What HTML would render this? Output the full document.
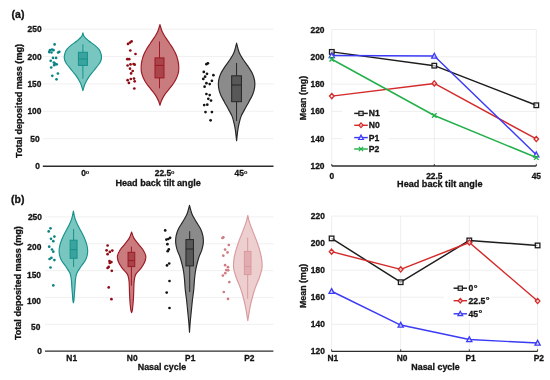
<!DOCTYPE html>
<html><head><meta charset="utf-8"><style>
html,body{margin:0;padding:0;background:#fff;}
svg{display:block;will-change:transform;}
text{font-family:"Liberation Sans",sans-serif;font-weight:bold;fill:#141414;stroke:#141414;stroke-width:0.3px;}
</style></head><body>
<svg width="550" height="380" viewBox="0 0 550 380">
<rect width="550" height="380" fill="#fff"/>
<text x="11.6" y="17.9" font-size="10.5" text-anchor="start" >(a)</text>
<line x1="43" y1="138.64" x2="273.5" y2="138.64" stroke="#ececec" stroke-width="0.8"/>
<line x1="43" y1="111.28" x2="273.5" y2="111.28" stroke="#ececec" stroke-width="0.8"/>
<line x1="43" y1="83.92" x2="273.5" y2="83.92" stroke="#ececec" stroke-width="0.8"/>
<line x1="43" y1="56.56" x2="273.5" y2="56.56" stroke="#ececec" stroke-width="0.8"/>
<line x1="43" y1="29.20" x2="273.5" y2="29.20" stroke="#ececec" stroke-width="0.8"/>
<line x1="42.8" y1="166.2" x2="273.5" y2="166.2" stroke="#2c2c2c" stroke-width="1.4"/>
<text x="39.8" y="169.0" font-size="8.4" text-anchor="end" >0</text>
<text x="39.7" y="141.64" font-size="8.4" text-anchor="end" >50</text>
<text x="41.4" y="114.28" font-size="8.4" text-anchor="end" >100</text>
<text x="41.4" y="86.92" font-size="8.4" text-anchor="end" >150</text>
<text x="41.6" y="59.56" font-size="8.4" text-anchor="end" >200</text>
<text x="41.6" y="32.2" font-size="8.4" text-anchor="end" >250</text>
<text transform="translate(21.6,101) rotate(-90)" font-size="9.05" text-anchor="middle">Total deposited mass (mg)</text>
<path d="M82.90,32.90 C83.13,33.53 83.28,35.35 84.28,36.70 C85.28,38.05 87.13,39.55 88.90,41.00 C90.67,42.45 93.18,43.95 94.90,45.40 C96.62,46.85 98.17,48.25 99.20,49.70 C100.23,51.15 100.72,52.65 101.10,54.10 C101.48,55.55 101.70,56.95 101.50,58.40 C101.30,59.85 100.72,61.35 99.90,62.80 C99.08,64.25 97.73,65.65 96.60,67.10 C95.47,68.55 94.27,70.05 93.10,71.50 C91.93,72.95 90.64,74.35 89.60,75.80 C88.56,77.25 87.65,78.75 86.84,80.20 C86.03,81.65 85.31,83.05 84.73,84.50 C84.15,85.95 83.66,87.88 83.36,88.90 C83.05,89.92 82.98,90.32 82.90,90.60 C82.82,90.32 82.75,89.92 82.44,88.90 C82.14,87.88 81.65,85.95 81.07,84.50 C80.49,83.05 79.77,81.65 78.96,80.20 C78.15,78.75 77.24,77.25 76.20,75.80 C75.16,74.35 73.87,72.95 72.70,71.50 C71.53,70.05 70.33,68.55 69.20,67.10 C68.07,65.65 66.72,64.25 65.90,62.80 C65.08,61.35 64.50,59.85 64.30,58.40 C64.10,56.95 64.32,55.55 64.70,54.10 C65.08,52.65 65.57,51.15 66.60,49.70 C67.63,48.25 69.18,46.85 70.90,45.40 C72.62,43.95 75.13,42.45 76.90,41.00 C78.67,39.55 80.53,38.05 81.53,36.70 C82.53,35.35 82.67,33.53 82.90,32.90 Z" fill="#78c6c0" stroke="#17918c" stroke-width="1.15" stroke-linejoin="round"/>
<line x1="82.9" y1="44.3" x2="82.9" y2="52.3" stroke="#17918c" stroke-width="1.0"/><line x1="82.9" y1="65.4" x2="82.9" y2="78.7" stroke="#17918c" stroke-width="1.0"/><rect x="78.4" y="52.3" width="9.0" height="13.100000000000009" fill="#3aa39d" stroke="#17918c" stroke-width="1.0"/><line x1="78.4" y1="59.0" x2="87.4" y2="59.0" stroke="#17918c" stroke-width="1.0"/>
<path d="M159.95,24.60 C160.32,25.77 161.22,29.47 162.15,31.60 C163.08,33.73 164.33,35.47 165.55,37.40 C166.77,39.33 168.17,41.27 169.45,43.20 C170.73,45.13 172.13,47.07 173.25,49.00 C174.37,50.93 175.37,52.87 176.15,54.80 C176.93,56.73 177.52,58.67 177.95,60.60 C178.38,62.53 178.67,64.47 178.75,66.40 C178.83,68.33 178.82,70.27 178.45,72.20 C178.08,74.13 177.42,76.07 176.55,78.00 C175.68,79.93 174.55,81.87 173.25,83.80 C171.95,85.73 170.25,87.67 168.75,89.60 C167.25,91.53 165.51,93.47 164.26,95.40 C163.01,97.33 161.95,99.55 161.23,101.20 C160.52,102.85 160.16,104.62 159.95,105.30 C159.74,104.62 159.38,102.85 158.67,101.20 C157.95,99.55 156.89,97.33 155.64,95.40 C154.39,93.47 152.65,91.53 151.15,89.60 C149.65,87.67 147.95,85.73 146.65,83.80 C145.35,81.87 144.22,79.93 143.35,78.00 C142.48,76.07 141.82,74.13 141.45,72.20 C141.08,70.27 141.07,68.33 141.15,66.40 C141.23,64.47 141.52,62.53 141.95,60.60 C142.38,58.67 142.97,56.73 143.75,54.80 C144.53,52.87 145.53,50.93 146.65,49.00 C147.77,47.07 149.17,45.13 150.45,43.20 C151.73,41.27 153.13,39.33 154.35,37.40 C155.57,35.47 156.82,33.73 157.75,31.60 C158.68,29.47 159.58,25.77 159.95,24.60 Z" fill="#c97b7e" stroke="#9c1a24" stroke-width="1.15" stroke-linejoin="round"/>
<line x1="159.5" y1="41.5" x2="159.5" y2="57.9" stroke="#9c1a24" stroke-width="1.0"/><line x1="159.5" y1="77.9" x2="159.5" y2="88.3" stroke="#9c1a24" stroke-width="1.0"/><rect x="155.0" y="57.9" width="9.0" height="20.000000000000007" fill="#ab434a" stroke="#9c1a24" stroke-width="1.0"/><line x1="155.0" y1="65.4" x2="164.0" y2="65.4" stroke="#9c1a24" stroke-width="1.0"/>
<path d="M236.60,43.10 C237.01,44.62 238.01,49.50 239.07,52.20 C240.14,54.90 241.50,56.93 243.00,59.30 C244.50,61.67 246.53,64.03 248.10,66.40 C249.67,68.77 251.32,71.13 252.40,73.50 C253.48,75.87 254.23,78.23 254.60,80.60 C254.97,82.97 254.93,85.33 254.60,87.70 C254.27,90.07 253.57,92.43 252.60,94.80 C251.63,97.17 250.08,99.53 248.80,101.90 C247.52,104.27 246.17,106.63 244.90,109.00 C243.63,111.37 242.14,113.73 241.18,116.10 C240.23,118.47 239.73,120.83 239.17,123.20 C238.60,125.57 238.16,127.93 237.79,130.30 C237.42,132.67 237.17,135.65 236.97,137.40 C236.77,139.15 236.66,140.23 236.60,140.80 C236.54,140.23 236.43,139.15 236.23,137.40 C236.03,135.65 235.78,132.67 235.41,130.30 C235.04,127.93 234.60,125.57 234.03,123.20 C233.47,120.83 232.97,118.47 232.02,116.10 C231.06,113.73 229.57,111.37 228.30,109.00 C227.03,106.63 225.68,104.27 224.40,101.90 C223.12,99.53 221.57,97.17 220.60,94.80 C219.63,92.43 218.93,90.07 218.60,87.70 C218.27,85.33 218.23,82.97 218.60,80.60 C218.97,78.23 219.72,75.87 220.80,73.50 C221.88,71.13 223.53,68.77 225.10,66.40 C226.67,64.03 228.70,61.67 230.20,59.30 C231.70,56.93 233.06,54.90 234.12,52.20 C235.19,49.50 236.19,44.62 236.60,43.10 Z" fill="#8b8b8b" stroke="#262626" stroke-width="1.15" stroke-linejoin="round"/>
<line x1="236.55" y1="63.0" x2="236.55" y2="75.8" stroke="#262626" stroke-width="1.0"/><line x1="236.55" y1="101.7" x2="236.55" y2="121.0" stroke="#262626" stroke-width="1.0"/><rect x="231.65" y="75.8" width="9.8" height="25.900000000000006" fill="#585858" stroke="#262626" stroke-width="1.0"/><line x1="231.65" y1="85.0" x2="241.45000000000002" y2="85.0" stroke="#262626" stroke-width="1.0"/>
<circle cx="54.6" cy="44.4" r="1.35" fill="#0d8383"/><circle cx="50" cy="50.2" r="1.35" fill="#0d8383"/><circle cx="52.1" cy="49.5" r="1.35" fill="#0d8383"/><circle cx="53.5" cy="50.2" r="1.35" fill="#0d8383"/><circle cx="49.2" cy="52.1" r="1.35" fill="#0d8383"/><circle cx="51.5" cy="52.5" r="1.35" fill="#0d8383"/><circle cx="58.1" cy="52.5" r="1.35" fill="#0d8383"/><circle cx="59.3" cy="51.8" r="1.35" fill="#0d8383"/><circle cx="53" cy="57.9" r="1.35" fill="#0d8383"/><circle cx="56.1" cy="57.9" r="1.35" fill="#0d8383"/><circle cx="50.7" cy="60.8" r="1.35" fill="#0d8383"/><circle cx="53.8" cy="62.5" r="1.35" fill="#0d8383"/><circle cx="55" cy="63.7" r="1.35" fill="#0d8383"/><circle cx="56.7" cy="64.3" r="1.35" fill="#0d8383"/><circle cx="54.2" cy="65.2" r="1.35" fill="#0d8383"/><circle cx="51.2" cy="67.5" r="1.35" fill="#0d8383"/><circle cx="57.9" cy="73.5" r="1.35" fill="#0d8383"/><circle cx="52.3" cy="75.8" r="1.35" fill="#0d8383"/><circle cx="56.5" cy="79.3" r="1.35" fill="#0d8383"/>
<circle cx="131.6" cy="41.4" r="1.35" fill="#8e0c14"/><circle cx="130" cy="42.6" r="1.35" fill="#8e0c14"/><circle cx="128" cy="43.9" r="1.35" fill="#8e0c14"/><circle cx="130.3" cy="50.5" r="1.35" fill="#8e0c14"/><circle cx="135.5" cy="54" r="1.35" fill="#8e0c14"/><circle cx="127.3" cy="59.2" r="1.35" fill="#8e0c14"/><circle cx="129.2" cy="59.2" r="1.35" fill="#8e0c14"/><circle cx="127.6" cy="65.5" r="1.35" fill="#8e0c14"/><circle cx="130.5" cy="64.4" r="1.35" fill="#8e0c14"/><circle cx="133.6" cy="64" r="1.35" fill="#8e0c14"/><circle cx="134.7" cy="64.7" r="1.35" fill="#8e0c14"/><circle cx="130" cy="68.7" r="1.35" fill="#8e0c14"/><circle cx="132.7" cy="71" r="1.35" fill="#8e0c14"/><circle cx="131.1" cy="73.4" r="1.35" fill="#8e0c14"/><circle cx="127.6" cy="80.2" r="1.35" fill="#8e0c14"/><circle cx="130.8" cy="79" r="1.35" fill="#8e0c14"/><circle cx="134" cy="78.6" r="1.35" fill="#8e0c14"/><circle cx="128.9" cy="82.9" r="1.35" fill="#8e0c14"/><circle cx="134.7" cy="81.3" r="1.35" fill="#8e0c14"/><circle cx="134.3" cy="88.5" r="1.35" fill="#8e0c14"/>
<circle cx="207.9" cy="63.3" r="1.35" fill="#141414"/><circle cx="206.4" cy="64.2" r="1.35" fill="#141414"/><circle cx="203.8" cy="71.9" r="1.35" fill="#141414"/><circle cx="207" cy="73.8" r="1.35" fill="#141414"/><circle cx="213.4" cy="75.2" r="1.35" fill="#141414"/><circle cx="205.1" cy="76.7" r="1.35" fill="#141414"/><circle cx="203.3" cy="78.9" r="1.35" fill="#141414"/><circle cx="211.9" cy="80.8" r="1.35" fill="#141414"/><circle cx="206.4" cy="83.2" r="1.35" fill="#141414"/><circle cx="209.7" cy="84.1" r="1.35" fill="#141414"/><circle cx="204.6" cy="86.7" r="1.35" fill="#141414"/><circle cx="206.4" cy="94" r="1.35" fill="#141414"/><circle cx="209.7" cy="95.1" r="1.35" fill="#141414"/><circle cx="208.3" cy="98.8" r="1.35" fill="#141414"/><circle cx="211" cy="100.6" r="1.35" fill="#141414"/><circle cx="204.2" cy="105.1" r="1.35" fill="#141414"/><circle cx="207.3" cy="104.7" r="1.35" fill="#141414"/><circle cx="205.5" cy="112.1" r="1.35" fill="#141414"/><circle cx="211.9" cy="112.1" r="1.35" fill="#141414"/><circle cx="210.6" cy="120.3" r="1.35" fill="#141414"/>
<text x="81.2" y="175.8" font-size="8.4" text-anchor="start" >0<tspan font-size='5.6' dy='-2.2' style='stroke-width:0.1px'>o</tspan></text>
<text x="154.8" y="175.8" font-size="8.4" text-anchor="start" >22.5<tspan font-size='5.6' dy='-2.2' style='stroke-width:0.1px'>o</tspan></text>
<text x="234.6" y="175.8" font-size="8.4" text-anchor="start" >45<tspan font-size='5.6' dy='-2.2' style='stroke-width:0.1px'>o</tspan></text>
<text x="158.1" y="186.3" font-size="9.1" text-anchor="middle" >Head back tilt angle</text>
<line x1="331.8" y1="138.70" x2="536.3" y2="138.70" stroke="#ececec" stroke-width="0.9"/>
<line x1="331.8" y1="111.40" x2="536.3" y2="111.40" stroke="#ececec" stroke-width="0.9"/>
<line x1="331.8" y1="84.10" x2="536.3" y2="84.10" stroke="#ececec" stroke-width="0.9"/>
<line x1="331.8" y1="56.80" x2="536.3" y2="56.80" stroke="#ececec" stroke-width="0.9"/>
<line x1="331.8" y1="29.50" x2="536.3" y2="29.50" stroke="#ececec" stroke-width="0.9"/>
<line x1="331.8" y1="29.50" x2="331.8" y2="166.0" stroke="#ececec" stroke-width="0.9"/>
<line x1="434.3" y1="29.50" x2="434.3" y2="166.0" stroke="#ececec" stroke-width="0.9"/>
<line x1="536.3" y1="29.50" x2="536.3" y2="166.0" stroke="#ececec" stroke-width="0.9"/>
<line x1="331.8" y1="166.0" x2="536.3" y2="166.0" stroke="#2c2c2c" stroke-width="1.3"/>
<line x1="331.8" y1="164.0" x2="331.8" y2="166.0" stroke="#2c2c2c" stroke-width="0.9"/>
<line x1="434.3" y1="164.0" x2="434.3" y2="166.0" stroke="#2c2c2c" stroke-width="0.9"/>
<line x1="536.3" y1="164.0" x2="536.3" y2="166.0" stroke="#2c2c2c" stroke-width="0.9"/>
<rect x="342.3" y="104" width="46.3" height="52" fill="#fff"/>
<polyline points="331.80,51.89 434.30,65.67 536.30,105.26" fill="none" stroke="#1c1c1c" stroke-width="1.45" stroke-linejoin="round"/>
<rect x="329.50" y="49.59" width="4.6" height="4.6" fill="#fff" fill-opacity="0.6" stroke="#1c1c1c" stroke-width="1.3"/>
<rect x="432.00" y="63.37" width="4.6" height="4.6" fill="#fff" fill-opacity="0.6" stroke="#1c1c1c" stroke-width="1.3"/>
<rect x="534.00" y="102.96" width="4.6" height="4.6" fill="#fff" fill-opacity="0.6" stroke="#1c1c1c" stroke-width="1.3"/>
<polyline points="331.80,96.11 434.30,83.42 536.30,138.97" fill="none" stroke="#d42a2a" stroke-width="1.45" stroke-linejoin="round"/>
<path d="M331.80,93.51 L334.10,96.11 L331.80,98.71 L329.50,96.11 Z" fill="#fff" fill-opacity="0.6" stroke="#d42a2a" stroke-width="1.3"/>
<path d="M434.30,80.82 L436.60,83.42 L434.30,86.02 L432.00,83.42 Z" fill="#fff" fill-opacity="0.6" stroke="#d42a2a" stroke-width="1.3"/>
<path d="M536.30,136.37 L538.60,138.97 L536.30,141.57 L534.00,138.97 Z" fill="#fff" fill-opacity="0.6" stroke="#d42a2a" stroke-width="1.3"/>
<polyline points="331.80,55.44 434.30,55.98 536.30,154.67" fill="none" stroke="#3b3bf5" stroke-width="1.45" stroke-linejoin="round"/>
<path d="M331.80,52.74 L334.40,57.53 L329.20,57.53 Z" fill="#fff" fill-opacity="0.6" stroke="#3b3bf5" stroke-width="1.3"/>
<path d="M434.30,53.28 L436.90,58.08 L431.70,58.08 Z" fill="#fff" fill-opacity="0.6" stroke="#3b3bf5" stroke-width="1.3"/>
<path d="M536.30,151.97 L538.90,156.77 L533.70,156.77 Z" fill="#fff" fill-opacity="0.6" stroke="#3b3bf5" stroke-width="1.3"/>
<polyline points="331.80,59.26 434.30,115.50 536.30,157.54" fill="none" stroke="#22b04a" stroke-width="1.45" stroke-linejoin="round"/>
<path d="M329.50,56.96 L334.10,61.56 M334.10,56.96 L329.50,61.56" stroke="#22b04a" stroke-width="1.3"/>
<path d="M432.00,113.20 L436.60,117.80 M436.60,113.20 L432.00,117.80" stroke="#22b04a" stroke-width="1.3"/>
<path d="M534.00,155.24 L538.60,159.84 M538.60,155.24 L534.00,159.84" stroke="#22b04a" stroke-width="1.3"/>
<line x1="354.2" y1="113.4" x2="367.8" y2="113.4" stroke="#1c1c1c" stroke-width="1.45"/>
<rect x="358.90" y="111.30" width="4.2" height="4.2" fill="#fff" fill-opacity="0.6" stroke="#1c1c1c" stroke-width="1.2"/>
<text x="368.8" y="116.4" font-size="8.6" text-anchor="start" >N1</text>
<line x1="354.2" y1="125.3" x2="367.8" y2="125.3" stroke="#d42a2a" stroke-width="1.45"/>
<path d="M361.00,122.90 L363.10,125.30 L361.00,127.70 L358.90,125.30 Z" fill="#fff" fill-opacity="0.6" stroke="#d42a2a" stroke-width="1.2"/>
<text x="368.8" y="128.3" font-size="8.6" text-anchor="start" >N0</text>
<line x1="354.2" y1="137.6" x2="367.8" y2="137.6" stroke="#3b3bf5" stroke-width="1.45"/>
<path d="M361.00,135.10 L363.40,139.50 L358.60,139.50 Z" fill="#fff" fill-opacity="0.6" stroke="#3b3bf5" stroke-width="1.2"/>
<text x="368.8" y="140.6" font-size="8.6" text-anchor="start" >P1</text>
<line x1="354.2" y1="149.0" x2="367.8" y2="149.0" stroke="#22b04a" stroke-width="1.45"/>
<path d="M358.90,146.90 L363.10,151.10 M363.10,146.90 L358.90,151.10" stroke="#22b04a" stroke-width="1.2"/>
<text x="368.8" y="152.0" font-size="8.6" text-anchor="start" >P2</text>
<text x="324.5" y="169.0" font-size="8.4" text-anchor="end" >120</text>
<text x="324.5" y="141.7" font-size="8.4" text-anchor="end" >140</text>
<text x="324.5" y="114.4" font-size="8.4" text-anchor="end" >160</text>
<text x="324.5" y="87.1" font-size="8.4" text-anchor="end" >180</text>
<text x="324.5" y="59.8" font-size="8.4" text-anchor="end" >200</text>
<text x="324.5" y="32.5" font-size="8.4" text-anchor="end" >220</text>
<text x="331.8" y="178.6" font-size="8.4" text-anchor="middle" >0</text>
<text x="434.3" y="178.6" font-size="8.4" text-anchor="middle" >22.5</text>
<text x="536.3" y="178.6" font-size="8.4" text-anchor="middle" >45</text>
<text transform="translate(306.2,98) rotate(-90)" font-size="8.9" text-anchor="middle">Mean (mg)</text>
<text x="439.8" y="187.4" font-size="9.1" text-anchor="middle" >Head back tilt angle</text>
<text x="11.0" y="203.3" font-size="10.5" text-anchor="start" >(b)</text>
<line x1="45" y1="324.42" x2="273.4" y2="324.42" stroke="#ececec" stroke-width="0.8"/>
<line x1="45" y1="297.54" x2="273.4" y2="297.54" stroke="#ececec" stroke-width="0.8"/>
<line x1="45" y1="270.66" x2="273.4" y2="270.66" stroke="#ececec" stroke-width="0.8"/>
<line x1="45" y1="243.78" x2="273.4" y2="243.78" stroke="#ececec" stroke-width="0.8"/>
<line x1="45" y1="216.90" x2="273.4" y2="216.90" stroke="#ececec" stroke-width="0.8"/>
<line x1="45" y1="351.2" x2="273.4" y2="351.2" stroke="#2c2c2c" stroke-width="1.3"/>
<text x="41.9" y="353.8" font-size="8.4" text-anchor="end" >0</text>
<text x="40.4" y="330.1" font-size="8.4" text-anchor="end" >50</text>
<text x="41.0" y="304.4" font-size="8.4" text-anchor="end" >100</text>
<text x="41.0" y="278.0" font-size="8.4" text-anchor="end" >150</text>
<text x="41.3" y="250.3" font-size="8.4" text-anchor="end" >200</text>
<text x="41.9" y="219.7" font-size="8.4" text-anchor="end" >250</text>
<text transform="translate(20.6,283.1) rotate(-90)" font-size="9.05" text-anchor="middle">Total deposited mass (mg)</text>
<path d="M73.40,211.00 C73.68,212.28 74.29,216.28 75.05,218.70 C75.81,221.12 76.89,223.23 77.98,225.50 C79.08,227.77 80.45,230.02 81.60,232.30 C82.75,234.58 83.98,236.92 84.90,239.20 C85.82,241.48 86.65,243.73 87.10,246.00 C87.55,248.27 87.83,250.52 87.60,252.80 C87.37,255.08 86.80,257.42 85.70,259.70 C84.60,261.98 82.48,264.23 81.00,266.50 C79.52,268.77 77.72,271.02 76.79,273.30 C75.86,275.58 75.72,277.92 75.42,280.20 C75.11,282.48 75.13,284.73 74.96,287.00 C74.79,289.27 74.59,291.52 74.41,293.80 C74.23,296.08 74.03,299.20 73.86,300.70 C73.69,302.20 73.48,302.45 73.40,302.80 C73.32,302.45 73.11,302.20 72.94,300.70 C72.77,299.20 72.58,296.08 72.39,293.80 C72.21,291.52 72.01,289.27 71.84,287.00 C71.67,284.73 71.69,282.48 71.38,280.20 C71.08,277.92 70.94,275.58 70.01,273.30 C69.08,271.02 67.28,268.77 65.80,266.50 C64.32,264.23 62.20,261.98 61.10,259.70 C60.00,257.42 59.43,255.08 59.20,252.80 C58.97,250.52 59.25,248.27 59.70,246.00 C60.15,243.73 60.98,241.48 61.90,239.20 C62.82,236.92 64.05,234.58 65.20,232.30 C66.35,230.02 67.73,227.77 68.82,225.50 C69.91,223.23 70.99,221.12 71.75,218.70 C72.51,216.28 73.12,212.28 73.40,211.00 Z" fill="#78c6c0" stroke="#17918c" stroke-width="1.15" stroke-linejoin="round"/>
<line x1="73.6" y1="229.0" x2="73.6" y2="240.2" stroke="#17918c" stroke-width="1.0"/><line x1="73.6" y1="258.3" x2="73.6" y2="267.0" stroke="#17918c" stroke-width="1.0"/><rect x="70.14999999999999" y="240.2" width="6.9" height="18.100000000000023" fill="#3aa39d" stroke="#17918c" stroke-width="1.0"/><line x1="70.14999999999999" y1="249.6" x2="77.05" y2="249.6" stroke="#17918c" stroke-width="1.0"/>
<path d="M131.60,232.00 C131.98,233.02 132.76,236.08 133.89,238.10 C135.02,240.12 136.83,242.08 138.40,244.10 C139.97,246.12 142.07,248.18 143.30,250.20 C144.53,252.22 145.58,254.18 145.80,256.20 C146.02,258.22 145.42,260.28 144.60,262.30 C143.78,264.32 142.38,266.28 140.90,268.30 C139.42,270.32 136.83,272.38 135.72,274.40 C134.62,276.42 134.56,278.40 134.26,280.40 C133.95,282.40 133.98,284.38 133.89,286.40 C133.80,288.42 133.78,290.48 133.71,292.50 C133.63,294.52 133.56,296.48 133.43,298.50 C133.31,300.52 133.17,302.58 132.97,304.60 C132.78,306.62 132.47,309.27 132.24,310.60 C132.01,311.93 131.71,312.27 131.60,312.60 C131.49,312.27 131.19,311.93 130.96,310.60 C130.73,309.27 130.42,306.62 130.22,304.60 C130.03,302.58 129.89,300.52 129.77,298.50 C129.64,296.48 129.57,294.52 129.49,292.50 C129.42,290.48 129.40,288.42 129.31,286.40 C129.22,284.38 129.25,282.40 128.94,280.40 C128.64,278.40 128.58,276.42 127.47,274.40 C126.37,272.38 123.78,270.32 122.30,268.30 C120.82,266.28 119.42,264.32 118.60,262.30 C117.78,260.28 117.18,258.22 117.40,256.20 C117.62,254.18 118.67,252.22 119.90,250.20 C121.13,248.18 123.23,246.12 124.80,244.10 C126.37,242.08 128.18,240.12 129.31,238.10 C130.44,236.08 131.22,233.02 131.60,232.00 Z" fill="#c97b7e" stroke="#9c1a24" stroke-width="1.15" stroke-linejoin="round"/>
<line x1="131.4" y1="246.6" x2="131.4" y2="252.3" stroke="#9c1a24" stroke-width="1.0"/><line x1="131.4" y1="266.6" x2="131.4" y2="285.6" stroke="#9c1a24" stroke-width="1.0"/><rect x="128.05" y="252.3" width="6.7" height="14.300000000000011" fill="#ab434a" stroke="#9c1a24" stroke-width="1.0"/><line x1="128.05" y1="260.6" x2="134.75" y2="260.6" stroke="#9c1a24" stroke-width="1.0"/>
<path d="M189.50,205.40 C189.93,206.88 190.97,211.62 192.07,214.30 C193.17,216.98 194.71,219.12 196.10,221.50 C197.49,223.88 199.27,226.22 200.40,228.60 C201.53,230.98 202.42,233.42 202.90,235.80 C203.38,238.18 203.48,240.52 203.30,242.90 C203.12,245.28 202.52,247.75 201.80,250.10 C201.08,252.45 199.80,254.68 199.00,257.00 C198.20,259.32 197.58,261.67 197.00,264.00 C196.42,266.33 195.91,268.50 195.50,271.00 C195.09,273.50 194.84,275.83 194.54,279.00 C194.24,282.17 194.07,286.50 193.72,290.00 C193.37,293.50 192.83,296.50 192.43,300.00 C192.04,303.50 191.70,307.33 191.33,311.00 C190.97,314.67 190.54,318.47 190.23,322.00 C189.93,325.53 189.62,330.50 189.50,332.20 C189.38,330.50 189.07,325.53 188.77,322.00 C188.46,318.47 188.03,314.67 187.67,311.00 C187.30,307.33 186.96,303.50 186.57,300.00 C186.17,296.50 185.63,293.50 185.28,290.00 C184.93,286.50 184.76,282.17 184.46,279.00 C184.16,275.83 183.91,273.50 183.50,271.00 C183.09,268.50 182.58,266.33 182.00,264.00 C181.42,261.67 180.80,259.32 180.00,257.00 C179.20,254.68 177.92,252.45 177.20,250.10 C176.48,247.75 175.88,245.28 175.70,242.90 C175.52,240.52 175.62,238.18 176.10,235.80 C176.58,233.42 177.47,230.98 178.60,228.60 C179.73,226.22 181.51,223.88 182.90,221.50 C184.29,219.12 185.83,216.98 186.93,214.30 C188.03,211.62 189.07,206.88 189.50,205.40 Z" fill="#8b8b8b" stroke="#262626" stroke-width="1.15" stroke-linejoin="round"/>
<line x1="189.7" y1="231.2" x2="189.7" y2="239.6" stroke="#262626" stroke-width="1.0"/><line x1="189.7" y1="265.9" x2="189.7" y2="292.0" stroke="#262626" stroke-width="1.0"/><rect x="185.95" y="239.6" width="7.5" height="26.299999999999983" fill="#585858" stroke="#262626" stroke-width="1.0"/><line x1="185.95" y1="249.0" x2="193.45" y2="249.0" stroke="#262626" stroke-width="1.0"/>
<path d="M247.80,215.50 C248.08,216.62 248.61,219.55 249.45,222.20 C250.29,224.85 251.67,228.33 252.84,231.40 C254.02,234.47 255.39,237.55 256.50,240.60 C257.61,243.65 258.65,246.65 259.50,249.70 C260.35,252.75 261.18,255.85 261.60,258.90 C262.02,261.95 262.35,264.95 262.00,268.00 C261.65,271.05 260.53,274.13 259.50,277.20 C258.47,280.27 256.91,283.35 255.80,286.40 C254.69,289.45 253.72,292.45 252.84,295.50 C251.97,298.55 251.21,301.63 250.55,304.70 C249.89,307.77 249.36,311.25 248.90,313.90 C248.44,316.55 247.98,319.48 247.80,320.60 C247.62,319.48 247.16,316.55 246.70,313.90 C246.24,311.25 245.71,307.77 245.05,304.70 C244.39,301.63 243.63,298.55 242.76,295.50 C241.88,292.45 240.91,289.45 239.80,286.40 C238.69,283.35 237.13,280.27 236.10,277.20 C235.07,274.13 233.95,271.05 233.60,268.00 C233.25,264.95 233.58,261.95 234.00,258.90 C234.42,255.85 235.25,252.75 236.10,249.70 C236.95,246.65 237.99,243.65 239.10,240.60 C240.21,237.55 241.58,234.47 242.76,231.40 C243.93,228.33 245.31,224.85 246.15,222.20 C246.99,219.55 247.53,216.62 247.80,215.50 Z" fill="#eecfcf" stroke="#d99a9e" stroke-width="1.15" stroke-linejoin="round"/>
<line x1="247.7" y1="237.5" x2="247.7" y2="251.4" stroke="#d99a9e" stroke-width="1.0"/><line x1="247.7" y1="274.6" x2="247.7" y2="298.8" stroke="#d99a9e" stroke-width="1.0"/><rect x="244.39999999999998" y="251.4" width="6.6" height="23.200000000000017" fill="#e2adb0" stroke="#d99a9e" stroke-width="1.0"/><line x1="244.39999999999998" y1="266.5" x2="250.99999999999997" y2="266.5" stroke="#d99a9e" stroke-width="1.0"/>
<circle cx="50.5" cy="228.3" r="1.35" fill="#0d8383"/><circle cx="48.7" cy="231.4" r="1.35" fill="#0d8383"/><circle cx="54.4" cy="236.6" r="1.35" fill="#0d8383"/><circle cx="51" cy="238.8" r="1.35" fill="#0d8383"/><circle cx="53.3" cy="241.2" r="1.35" fill="#0d8383"/><circle cx="49.2" cy="246.7" r="1.35" fill="#0d8383"/><circle cx="52" cy="249.5" r="1.35" fill="#0d8383"/><circle cx="53.3" cy="251.7" r="1.35" fill="#0d8383"/><circle cx="51.4" cy="257.8" r="1.35" fill="#0d8383"/><circle cx="49.6" cy="259" r="1.35" fill="#0d8383"/><circle cx="54.4" cy="260.1" r="1.35" fill="#0d8383"/><circle cx="50.5" cy="267.5" r="1.35" fill="#0d8383"/><circle cx="53.3" cy="285.4" r="1.35" fill="#0d8383"/>
<circle cx="107.6" cy="245.5" r="1.35" fill="#8e0c14"/><circle cx="106.6" cy="250.3" r="1.35" fill="#8e0c14"/><circle cx="109.8" cy="251.9" r="1.35" fill="#8e0c14"/><circle cx="112.3" cy="250.6" r="1.35" fill="#8e0c14"/><circle cx="107.6" cy="254.2" r="1.35" fill="#8e0c14"/><circle cx="109.5" cy="261" r="1.35" fill="#8e0c14"/><circle cx="111.4" cy="262.1" r="1.35" fill="#8e0c14"/><circle cx="109.8" cy="262.9" r="1.35" fill="#8e0c14"/><circle cx="108.7" cy="266.9" r="1.35" fill="#8e0c14"/><circle cx="107.6" cy="268" r="1.35" fill="#8e0c14"/><circle cx="111.8" cy="270.8" r="1.35" fill="#8e0c14"/><circle cx="108.7" cy="287.4" r="1.35" fill="#8e0c14"/><circle cx="111.4" cy="299.2" r="1.35" fill="#8e0c14"/>
<circle cx="165.2" cy="230.4" r="1.35" fill="#141414"/><circle cx="170.1" cy="237.8" r="1.35" fill="#141414"/><circle cx="168.3" cy="239" r="1.35" fill="#141414"/><circle cx="166.4" cy="239.6" r="1.35" fill="#141414"/><circle cx="167.4" cy="244.2" r="1.35" fill="#141414"/><circle cx="168.8" cy="249.4" r="1.35" fill="#141414"/><circle cx="167.7" cy="251.2" r="1.35" fill="#141414"/><circle cx="169.2" cy="263.5" r="1.35" fill="#141414"/><circle cx="167" cy="265.4" r="1.35" fill="#141414"/><circle cx="169.5" cy="281" r="1.35" fill="#141414"/><circle cx="166.7" cy="292.6" r="1.35" fill="#141414"/><circle cx="169.5" cy="308" r="1.35" fill="#141414"/>
<circle cx="223.3" cy="237.3" r="1.35" fill="#cf7c80"/><circle cx="222.4" cy="238" r="1.35" fill="#cf7c80"/><circle cx="228.8" cy="245" r="1.35" fill="#cf7c80"/><circle cx="225.1" cy="249.6" r="1.35" fill="#cf7c80"/><circle cx="227.5" cy="252.4" r="1.35" fill="#cf7c80"/><circle cx="223.3" cy="255.7" r="1.35" fill="#cf7c80"/><circle cx="225.1" cy="265.2" r="1.35" fill="#cf7c80"/><circle cx="228" cy="267.2" r="1.35" fill="#cf7c80"/><circle cx="226.3" cy="270.1" r="1.35" fill="#cf7c80"/><circle cx="228.2" cy="270.3" r="1.35" fill="#cf7c80"/><circle cx="225.3" cy="273.2" r="1.35" fill="#cf7c80"/><circle cx="222.9" cy="275.6" r="1.35" fill="#cf7c80"/><circle cx="229.3" cy="282.1" r="1.35" fill="#cf7c80"/><circle cx="223.8" cy="292" r="1.35" fill="#cf7c80"/><circle cx="228" cy="298.9" r="1.35" fill="#cf7c80"/>
<text x="71.7" y="360.9" font-size="8.4" text-anchor="middle" >N1</text>
<text x="132.2" y="360.9" font-size="8.4" text-anchor="middle" >N0</text>
<text x="190.2" y="360.9" font-size="8.4" text-anchor="middle" >P1</text>
<text x="249.3" y="360.9" font-size="8.4" text-anchor="middle" >P2</text>
<text x="161.9" y="369.9" font-size="8.9" text-anchor="middle" >Nasal cycle</text>
<line x1="331.6" y1="324.26" x2="537.6" y2="324.26" stroke="#ececec" stroke-width="0.9"/>
<line x1="331.6" y1="297.22" x2="537.6" y2="297.22" stroke="#ececec" stroke-width="0.9"/>
<line x1="331.6" y1="270.18" x2="537.6" y2="270.18" stroke="#ececec" stroke-width="0.9"/>
<line x1="331.6" y1="243.14" x2="537.6" y2="243.14" stroke="#ececec" stroke-width="0.9"/>
<line x1="331.6" y1="216.10" x2="537.6" y2="216.10" stroke="#ececec" stroke-width="0.9"/>
<line x1="331.6" y1="216.10" x2="331.6" y2="351.3" stroke="#ececec" stroke-width="0.9"/>
<line x1="400.7" y1="216.10" x2="400.7" y2="351.3" stroke="#ececec" stroke-width="0.9"/>
<line x1="469.3" y1="216.10" x2="469.3" y2="351.3" stroke="#ececec" stroke-width="0.9"/>
<line x1="537.6" y1="216.10" x2="537.6" y2="351.3" stroke="#ececec" stroke-width="0.9"/>
<line x1="331.6" y1="351.3" x2="537.6" y2="351.3" stroke="#2c2c2c" stroke-width="1.3"/>
<line x1="331.6" y1="349.3" x2="331.6" y2="351.3" stroke="#2c2c2c" stroke-width="0.9"/>
<line x1="400.7" y1="349.3" x2="400.7" y2="351.3" stroke="#2c2c2c" stroke-width="0.9"/>
<line x1="469.3" y1="349.3" x2="469.3" y2="351.3" stroke="#2c2c2c" stroke-width="0.9"/>
<line x1="537.6" y1="349.3" x2="537.6" y2="351.3" stroke="#2c2c2c" stroke-width="0.9"/>
<rect x="443.8" y="281.5" width="48" height="39" fill="#fff"/>
<polyline points="331.60,238.41 400.70,282.21 469.30,240.44 537.60,245.44" fill="none" stroke="#1c1c1c" stroke-width="1.45" stroke-linejoin="round"/>
<rect x="329.30" y="236.11" width="4.6" height="4.6" fill="#fff" fill-opacity="0.6" stroke="#1c1c1c" stroke-width="1.3"/>
<rect x="398.40" y="279.91" width="4.6" height="4.6" fill="#fff" fill-opacity="0.6" stroke="#1c1c1c" stroke-width="1.3"/>
<rect x="467.00" y="238.14" width="4.6" height="4.6" fill="#fff" fill-opacity="0.6" stroke="#1c1c1c" stroke-width="1.3"/>
<rect x="535.30" y="243.14" width="4.6" height="4.6" fill="#fff" fill-opacity="0.6" stroke="#1c1c1c" stroke-width="1.3"/>
<polyline points="331.60,251.66 400.70,269.37 469.30,242.46 537.60,301.01" fill="none" stroke="#d42a2a" stroke-width="1.45" stroke-linejoin="round"/>
<path d="M331.60,249.06 L333.90,251.66 L331.60,254.26 L329.30,251.66 Z" fill="#fff" fill-opacity="0.6" stroke="#d42a2a" stroke-width="1.3"/>
<path d="M400.70,266.77 L403.00,269.37 L400.70,271.97 L398.40,269.37 Z" fill="#fff" fill-opacity="0.6" stroke="#d42a2a" stroke-width="1.3"/>
<path d="M469.30,239.86 L471.60,242.46 L469.30,245.06 L467.00,242.46 Z" fill="#fff" fill-opacity="0.6" stroke="#d42a2a" stroke-width="1.3"/>
<path d="M537.60,298.41 L539.90,301.01 L537.60,303.61 L535.30,301.01 Z" fill="#fff" fill-opacity="0.6" stroke="#d42a2a" stroke-width="1.3"/>
<polyline points="331.60,291.27 400.70,325.07 469.30,339.54 537.60,343.05" fill="none" stroke="#3b3bf5" stroke-width="1.45" stroke-linejoin="round"/>
<path d="M331.60,288.57 L334.20,293.37 L329.00,293.37 Z" fill="#fff" fill-opacity="0.6" stroke="#3b3bf5" stroke-width="1.3"/>
<path d="M400.70,322.37 L403.30,327.17 L398.10,327.17 Z" fill="#fff" fill-opacity="0.6" stroke="#3b3bf5" stroke-width="1.3"/>
<path d="M469.30,336.84 L471.90,341.64 L466.70,341.64 Z" fill="#fff" fill-opacity="0.6" stroke="#3b3bf5" stroke-width="1.3"/>
<path d="M537.60,340.35 L540.20,345.15 L535.00,345.15 Z" fill="#fff" fill-opacity="0.6" stroke="#3b3bf5" stroke-width="1.3"/>
<line x1="453.6" y1="288.2" x2="467.0" y2="288.2" stroke="#1c1c1c" stroke-width="1.45"/>
<rect x="458.20" y="286.10" width="4.2" height="4.2" fill="#fff" fill-opacity="0.6" stroke="#1c1c1c" stroke-width="1.2"/>
<text x="468.6" y="291.2" font-size="8.6" text-anchor="start" >0<tspan font-size='9.5' dx='0.3' dy='-0.7'>°</tspan></text>
<line x1="453.6" y1="300.7" x2="467.0" y2="300.7" stroke="#d42a2a" stroke-width="1.45"/>
<path d="M460.30,298.30 L462.40,300.70 L460.30,303.10 L458.20,300.70 Z" fill="#fff" fill-opacity="0.6" stroke="#d42a2a" stroke-width="1.2"/>
<text x="468.6" y="303.7" font-size="8.6" text-anchor="start" >22.5<tspan font-size='9.5' dx='0.3' dy='-0.7'>°</tspan></text>
<line x1="453.6" y1="313.8" x2="467.0" y2="313.8" stroke="#3b3bf5" stroke-width="1.45"/>
<path d="M460.30,311.30 L462.70,315.70 L457.90,315.70 Z" fill="#fff" fill-opacity="0.6" stroke="#3b3bf5" stroke-width="1.2"/>
<text x="468.6" y="316.8" font-size="8.6" text-anchor="start" >45<tspan font-size='9.5' dx='0.3' dy='-0.7'>°</tspan></text>
<text x="324.8" y="354.3" font-size="8.4" text-anchor="end" >120</text>
<text x="324.8" y="327.26" font-size="8.4" text-anchor="end" >140</text>
<text x="324.8" y="300.22" font-size="8.4" text-anchor="end" >160</text>
<text x="324.8" y="273.18" font-size="8.4" text-anchor="end" >180</text>
<text x="324.8" y="246.14" font-size="8.4" text-anchor="end" >200</text>
<text x="324.8" y="219.1" font-size="8.4" text-anchor="end" >220</text>
<text x="332.90000000000003" y="361.3" font-size="8.4" text-anchor="middle" >N1</text>
<text x="402.0" y="361.3" font-size="8.4" text-anchor="middle" >N0</text>
<text x="470.6" y="361.3" font-size="8.4" text-anchor="middle" >P1</text>
<text x="538.9" y="361.3" font-size="8.4" text-anchor="middle" >P2</text>
<text transform="translate(305.5,285.9) rotate(-90)" font-size="8.9" text-anchor="middle">Mean (mg)</text>
<text x="435.5" y="370.0" font-size="8.9" text-anchor="middle" >Nasal cycle</text>
</svg>
</body></html>
